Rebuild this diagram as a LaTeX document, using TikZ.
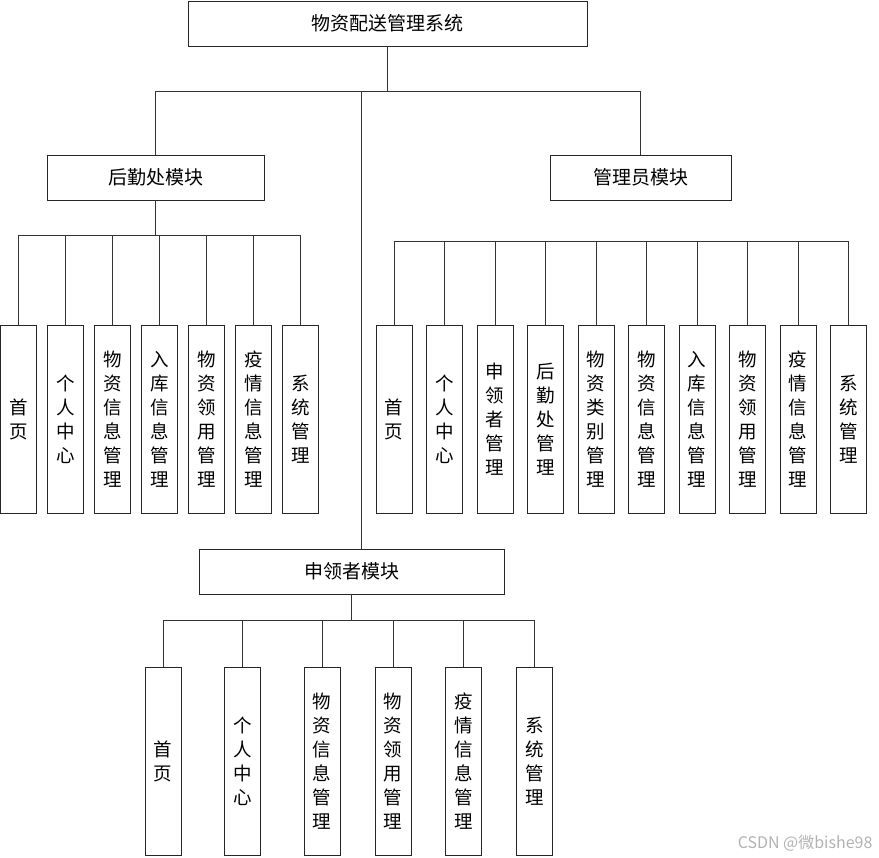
\documentclass[tikz,border=0pt]{standalone}
\usepackage{fontspec}
\setmainfont{Noto Sans CJK SC}
\newfontfamily\cjk{Noto Sans CJK SC}
\begin{document}
\begin{tikzpicture}[x=1pt,y=-1pt,
  box/.style={draw=black!85,line width=0.9pt,inner sep=0pt,minimum height=45pt,font=\cjk\fontsize{19}{24}\selectfont},
  leaf/.style={draw=black!85,line width=0.9pt,inner sep=0pt,minimum width=36pt,minimum height=188pt,align=center,font=\cjk\fontsize{18.5}{24}\selectfont},
  conn/.style={draw=black!80,line width=0.9pt}]
\useasboundingbox (0,0) rectangle (879,858);
% top
\node[box,minimum width=399pt] (root) at (387.5,23.5) {物资配送管理系统};
\node[box,minimum width=217pt] (hq) at (155.5,177.5) {后勤处模块};
\node[box,minimum width=181pt] (adm) at (640.5,177.5) {管理员模块};
\node[box,minimum width=305pt] (app) at (351.5,571.5) {申领者模块};
\coordinate (bus0) at (361,91);
\draw[conn] (root.south) -- ++(0,45) -| (hq.north);
\draw[conn] (root.south) -- ++(0,45) -| (adm.north);
\draw[conn] (bus0) -- (bus0 |- app.north);
% left leaves
\foreach \i/\x/\t in {1/18.5/首\\页,2/65.5/个\\人\\中\\心,3/112.5/物\\资\\信\\息\\管\\理,4/159.5/入\\库\\信\\息\\管\\理,5/206.5/物\\资\\领\\用\\管\\理,6/253.5/疫\\情\\信\\息\\管\\理,7/300.5/系\\统\\管\\理}{
  \node[leaf] (h\i) at (\x,419.5) {\t};
  \draw[conn] (hq.south) -- ++(0,35) -| (h\i.north);
}
% right leaves
\foreach \i/\x/\t in {1/394/首\\页,2/444.5/个\\人\\中\\心,3/495/申\\领\\者\\管\\理,4/545.5/后\\勤\\处\\管\\理,5/596/物\\资\\类\\别\\管\\理,6/646.5/物\\资\\信\\息\\管\\理,7/697/入\\库\\信\\息\\管\\理,8/747.5/物\\资\\领\\用\\管\\理,9/798/疫\\情\\信\\息\\管\\理,10/848.5/系\\统\\管\\理}{
  \node[leaf] (a\i) at (\x,419) {\t};
}
\foreach \i in {1,...,10}{
  \draw[conn] (a1.north) -- ++(0,-83) -| (a\i.north);
}
% bottom leaves
\foreach \i/\x/\t in {1/163/首\\页,2/242.5/个\\人\\中\\心,3/322/物\\资\\信\\息\\管\\理,4/393/物\\资\\领\\用\\管\\理,5/463.5/疫\\情\\信\\息\\管\\理,6/534.5/系\\统\\管\\理}{
  \node[leaf] (s\i) at (\x,761) {\t};
  \draw[conn] (app.south) -- ++(0,26) -| (s\i.north);
}
\node[text=black!30,font=\cjk\fontsize{16}{18}\selectfont,anchor=east] (wm) at (876,843) {CSDN @微bishe98};
\end{tikzpicture}
\end{document}
